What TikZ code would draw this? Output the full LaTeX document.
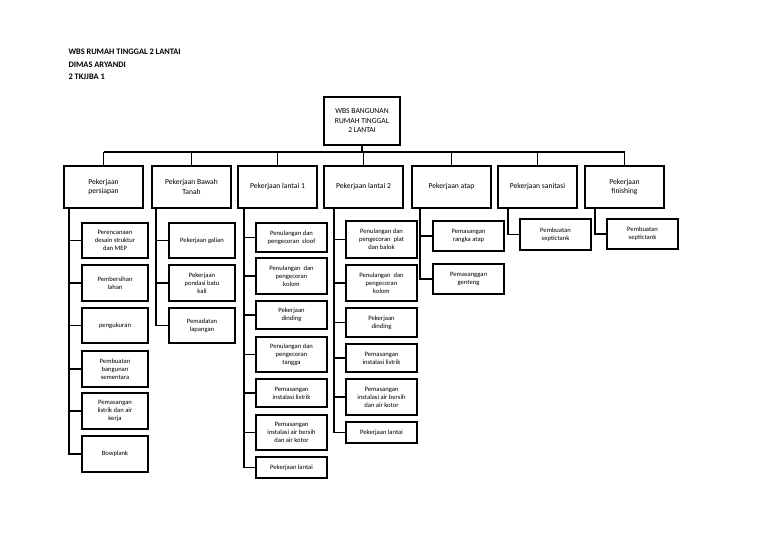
\documentclass[tikz,border=0pt]{standalone}
\usepackage{fontspec}
\setmainfont{Carlito}
\begin{document}
\begin{tikzpicture}[x=1pt,y=-1pt,
  box/.style={draw,line width=1.4pt,align=center,inner sep=1pt,outer sep=0pt,font=\fontsize{6.6}{8}\selectfont},
  top/.style={box,font=\fontsize{7.6}{9.5}\selectfont},
  ln/.style={line width=1.4pt}]
\useasboundingbox (0,0) rectangle (768,543);
\newcommand\bx[7][box]{\node[#1,minimum width={(#5-#3)*1pt},minimum height={(#6-#4)*1pt}] (#2) at ({(#3+#5)/2},{(#4+#6)/2}) {#7};}
\node[anchor=west,font=\bfseries\fontsize{8.4}{10}\selectfont] (t1) at (65,52) {WBS RUMAH TINGGAL 2 LANTAI};
\node[anchor=west,font=\bfseries\fontsize{8.4}{10}\selectfont] (t2) at (65,64.5) {DIMAS ARYANDI};
\node[anchor=west,font=\bfseries\fontsize{8.4}{10}\selectfont] (t3) at (65,77) {2 TKJJBA 1};
\bx[top]{root}{324}{97}{400}{145}{WBS BANGUNAN\\RUMAH TINGGAL\\2 LANTAI}
\bx[top]{A}{64}{166}{143}{208}{Pekerjaan\\persiapan}
\bx[top]{B}{152}{166}{231}{208}{Pekerjaan Bawah\\Tanah}
\bx[top]{C}{238}{166}{317}{208}{Pekerjaan lantai 1}
\bx[top]{D}{324}{166}{403}{208}{Pekerjaan lantai 2}
\bx[top]{E}{412}{166}{491}{208}{Pekerjaan atap}
\bx[top]{F}{498}{166}{577}{208}{Pekerjaan sanitasi}
\bx[top]{G}{585}{166}{664}{208}{Pekerjaan\\finishing}
\coordinate (bar) at (0,152);
\draw[ln] (root.south) -- (root.south |- bar);
\draw[ln] (A.north |- bar) -- (G.north |- bar);
\foreach \n in {A,B,C,D,E,F,G} \draw[ln] (\n.north) -- (\n.north |- bar);
% column A
\bx{A1}{82}{223}{148}{258}{Perencanaan\\desain struktur\\dan MEP}
\bx{A2}{82}{265}{148}{301}{Pembersihan\\lahan}
\bx{A3}{82}{308}{148}{343}{pengukuran}
\bx{A4}{82}{351}{148}{387}{Pembuatan\\bangunan\\sementara}
\bx{A5}{82}{393}{148}{429}{Pemasangan\\listrik dan air\\kerja}
\bx{A6}{82}{436}{148}{472}{Bowplank}
\foreach \c in {A1,A2,A3,A4,A5,A6} \draw[ln] ([xshift=5pt]A.south west) |- (\c.west);
% column B
\bx{B1}{169}{223}{235}{258}{Pekerjaan galian}
\bx{B2}{169}{265}{235}{301}{Pekerjaan\\pondasi batu\\kali}
\bx{B3}{169}{308}{235}{343}{Pemadatan\\lapangan}
\foreach \c in {B1,B2,B3} \draw[ln] ([xshift=4pt]B.south west) |- (\c.west);
% column C
\bx{C1}{256}{223}{327}{252}{Penulangan dan\\pengecoran\ \ sloof}
\bx{C2}{256}{258}{327}{294}{Penulangan\ \ dan\\pengecoran\\kolom}
\bx{C3}{256}{301}{327}{329}{Pekerjaan\\dinding}
\bx{C4}{256}{337}{327}{372}{Penulangan dan\\pengecoran\\tangga}
\bx{C5}{256}{379}{327}{407}{Pemasangan\\instalasi listrik}
\bx{C6}{256}{415}{327}{450}{Pemasangan\\instalasi air bersih\\dan air kotor}
\bx{C7}{256}{457}{327}{478}{Pekerjaan lantai}
\foreach \c in {C1,C2,C3,C4,C5,C6,C7} \draw[ln] ([xshift=6pt]C.south west) |- (\c.west);
% column D
\bx{D1}{346}{221}{417}{258}{Penulangan dan\\pengecoran\ \ plat\\dan balok}
\bx{D2}{346}{265}{417}{301}{Penulangan\ \ dan\\pengecoran\\kolom}
\bx{D3}{346}{308}{417}{337}{Pekerjaan\\dinding}
\bx{D4}{346}{344}{417}{372}{Pemasangan\\instalasi listrik}
\bx{D5}{346}{379}{417}{415}{Pemasangan\\instalasi air bersih\\dan air kotor}
\bx{D6}{346}{422}{417}{443}{Pekerjaan lantai}
\foreach \c in {D1,D2,D3,D4,D5,D6} \draw[ln] ([xshift=10pt]D.south west) |- (\c.west);
% column E
\bx{E1}{433}{221}{504}{251}{Pemasangan\\rangka atap}
\bx{E2}{433}{264}{504}{294}{Pemasanggan\\genteng}
\foreach \c in {E1,E2} \draw[ln] ([xshift=8pt]E.south west) |- (\c.west);
% column F, G
\bx{F1}{520}{219}{591}{250}{Pembuatan\\septictank}
\draw[ln] ([xshift=10pt]F.south west) |- (F1.west);
\bx{G1}{607}{219}{678}{249}{Pembuatan\\septictank}
\draw[ln] ([xshift=10pt]G.south west) |- (G1.west);
\end{tikzpicture}
\end{document}
